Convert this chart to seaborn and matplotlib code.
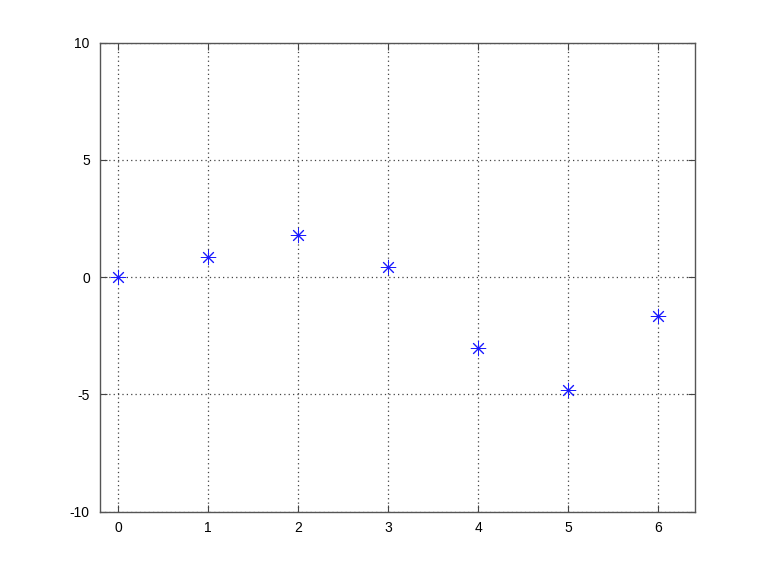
import numpy as np
import pandas as pd
import matplotlib
matplotlib.use("Agg")
import matplotlib.pyplot as plt
import seaborn as sns

# data points (x * sin(x) sampled at integers)
x_vals = [0, 1, 2, 3, 4, 5, 6]
y_vals = [0.0, 0.841, 1.819, 0.423, -3.027, -4.795, -1.676]
x_ticks = [0, 1, 2, 3, 4, 5, 6]
y_ticks = [-10, -5, 0, 5, 10]

sns.set_style("white")
plt.rcParams['font.family'] = ['Liberation Sans', 'DejaVu Sans']
plt.rcParams['axes.unicode_minus'] = False

df = pd.DataFrame({'x': x_vals, 'y': y_vals})

fig = plt.figure(figsize=(7.68, 5.77), dpi=100)
ax = fig.add_axes([0.1296, 0.1132, 0.905 - 0.1296, 0.926 - 0.1132])

sns.scatterplot(data=df, x='x', y='y', ax=ax, marker=(8, 2, 0), s=110,
                color='#1a1aff', linewidth=0.7, edgecolor='#1a1aff', zorder=3)

ax.set_xlim(-0.205, 6.41)
ax.set_ylim(-10, 10)
ax.set_xticks(x_ticks)
ax.set_yticks(y_ticks)
ax.set_xlabel('')
ax.set_ylabel('')
ax.grid(True, linestyle=(0, (1, 2.5)), color='#444444', linewidth=0.9)
ax.tick_params(direction='in', length=5, width=0.8, color='#444444',
               labelsize=10, labelcolor='black', top=True, right=True,
               bottom=True, left=True, pad=7)
for sp in ax.spines.values():
    sp.set_color('#555555')
    sp.set_linewidth(1.0)
    sp.set_visible(True)

fig.savefig('out.png', dpi=100)
